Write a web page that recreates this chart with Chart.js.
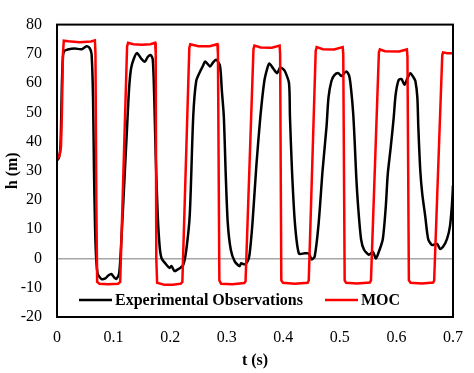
<!DOCTYPE html>
<html lang="en">
<head>
  <meta charset="UTF-8" />
  <title>h vs t</title>
  <style>
    * { margin: 0; padding: 0; box-sizing: border-box; }
    body { background: #fff; width: 474px; height: 373px; overflow: hidden; }
    #hChart { display: block; }
  </style>
</head>
<body>
  <canvas id="hChart" width="474" height="373"></canvas>

  <script src="https://cdn.jsdelivr.net/npm/chart.js@4/dist/chart.umd.min.js"></script>
  <script>
    // experimental observations
    const expT = [0, 0.0035, 0.0061, 0.0087, 0.0105, 0.0131, 0.0192, 0.0314, 0.0436, 0.0524, 0.0576, 0.0611,
      0.0637, 0.0654, 0.0681, 0.0716, 0.0785, 0.0855, 0.0907, 0.096, 0.1012, 0.1047, 0.1099, 0.1134, 0.1187,
      0.1239, 0.1274, 0.1309, 0.1361, 0.1414, 0.1483, 0.1553, 0.1606, 0.1658, 0.1693, 0.1719, 0.1745, 0.178,
      0.1815, 0.185, 0.192, 0.1989, 0.2024, 0.2077, 0.2129, 0.2181, 0.2234, 0.2286, 0.2347, 0.2408, 0.2461,
      0.253, 0.2583, 0.2618, 0.2705, 0.2757, 0.281, 0.288, 0.2914, 0.2949, 0.2984, 0.3019, 0.3072, 0.3141,
      0.3229, 0.3255, 0.3316, 0.3368, 0.3403, 0.3455, 0.3525, 0.3595, 0.3665, 0.3717, 0.3752, 0.3822, 0.3892,
      0.3944, 0.3996, 0.4031, 0.4101, 0.4118, 0.4154, 0.4206, 0.4276, 0.438, 0.445, 0.4502, 0.4555, 0.4625,
      0.4694, 0.4764, 0.4799, 0.4851, 0.4904, 0.4974, 0.5026, 0.5113, 0.5166, 0.5201, 0.5236, 0.5262, 0.5288,
      0.5323, 0.5375, 0.5428, 0.5515, 0.5585, 0.5637, 0.5689, 0.5759, 0.5812, 0.5846, 0.5899, 0.5951, 0.5986,
      0.6038, 0.609, 0.6143, 0.6195, 0.6248, 0.63, 0.6335, 0.637, 0.6387, 0.6422, 0.6457, 0.6509, 0.6562,
      0.6632, 0.6719, 0.6771, 0.6824, 0.6893, 0.6946, 0.698, 0.7];
    const expH = [33.5, 34.5, 38, 60, 69, 71, 71.5, 71.8, 71.6, 72.6, 72, 70,
      55, 30, 5, -5, -7, -6.8, -5.8, -5.3, -6.5, -7, -5, 5, 25,
      45, 58, 65, 68.5, 70.3, 68.5, 67.3, 69, 69.6, 68, 55, 35, 15,
      4, 0, -1.8, -3.2, -2.6, -4.3, -3.8, -3.2, -2.1, 3, 15, 48.5, 60.7,
      64, 66, 67.4, 65.7, 67, 68, 66, 57.4, 48.5, 28, 12, 3, -1,
      -2.6, -1.6, -2, -1, 1.3, 12, 32, 48.5, 60.7, 65, 66.7, 65, 63.4,
      65.3, 64.8, 64, 60, 48.5, 30, 12, 1.7, 1.8, 1.7, -0.3, 0.7, 12,
      30, 45, 55, 60.7, 62.7, 63.4, 62.4, 64, 62.4, 57.4, 49.5, 40, 28.7,
      17.8, 6.6, 3, 1.3, 2.3, 0, 2.3, 6.6, 17.8, 28.7, 38, 48, 56,
      61, 61.4, 59.4, 61.7, 63.4, 62, 60.7, 55, 45, 30, 22, 14.5, 6.6,
      4.6, 5, 3.3, 4, 6.6, 11, 18, 25];

    // method of characteristics
    const mocT = [0, 0.004, 0.007, 0.0087, 0.0105, 0.012, 0.02, 0.04, 0.06, 0.067, 0.068, 0.0695, 0.071,
      0.075, 0.09, 0.108, 0.1117, 0.1239, 0.1257, 0.135, 0.15, 0.165, 0.1735, 0.1745, 0.1755, 0.177,
      0.19, 0.205, 0.219, 0.2216, 0.2339, 0.2356, 0.25, 0.27, 0.2835, 0.2845, 0.287, 0.29,
      0.31, 0.331, 0.3333, 0.3473, 0.349, 0.36, 0.38, 0.3935, 0.3944, 0.3965, 0.3995,
      0.42, 0.443, 0.445, 0.4573, 0.459, 0.47, 0.49, 0.505, 0.506, 0.5085, 0.511,
      0.53, 0.553, 0.555, 0.569, 0.5707, 0.58, 0.605, 0.6185, 0.6195, 0.622, 0.625,
      0.645, 0.665, 0.6667, 0.681, 0.6824, 0.69, 0.7];
    const mocH = [34, 35, 38, 50, 70, 74.5, 74.3, 74, 74.2, 74.6, 70, 20, -8,
      -8.6, -8.8, -8.6, -8, 72.5, 73.8, 73.3, 73.1, 73.3, 73.8, 70, 0, -8.3,
      -9, -9, -8.6, -8, 72, 73.3, 72.6, 72.6, 73.3, 70, -7.5, -8.6,
      -8.8, -8.4, -7.8, 71.6, 72.8, 72.2, 72.1, 72.8, 70, -7.5, -8.3,
      -8.6, -8.3, -7.5, 71, 72.3, 71.6, 71.5, 72.3, 70, -7.5, -8.3,
      -8.5, -8.2, -7.5, 70.5, 71.5, 70.9, 70.8, 71.5, 69, -7.5, -8.3,
      -8.5, -8.2, -7.5, 69.5, 70.5, 70.2, 70.2];

    const seriesNames = ['Experimental Observations', 'MOC'];
    const xTicks = [0, 0.1, 0.2, 0.3, 0.4, 0.5, 0.6, 0.7];
    const yTicks = [-20, -10, 0, 10, 20, 30, 40, 50, 60, 70, 80];

    const serif = "'Liberation Serif', 'Times New Roman', serif";

    function toPoints(xs, ys) {
      return xs.map((x, i) => ({ x: x, y: ys[i] }));
    }

    // box round the plot area + legend drawn inside it
    const frameAndLegend = {
      id: 'frameAndLegend',
      afterDatasetsDraw(chart) {
        const { ctx, chartArea } = chart;
        ctx.save();
        ctx.lineWidth = 2;
        ctx.strokeStyle = '#000';
        ctx.strokeRect(chartArea.left, chartArea.top, chartArea.right - chartArea.left, chartArea.bottom - chartArea.top);

        const y = chartArea.bottom - 17;
        let x = chartArea.left + 22;
        ctx.font = "bold 16px " + serif;
        ctx.textBaseline = 'middle';
        ctx.textAlign = 'left';
        [0, 1].forEach(i => {
          const ds = chart.data.datasets[i];
          ctx.beginPath();
          ctx.strokeStyle = ds.borderColor;
          ctx.lineWidth = 2.5;
          ctx.moveTo(x, y);
          ctx.lineTo(x + 33, y);
          ctx.stroke();
          ctx.fillStyle = '#000';
          ctx.fillText(ds.label, x + 36, y + 1);
          x += 36 + ctx.measureText(ds.label).width + 22;
        });
        ctx.restore();
      }
    };

    new Chart(document.getElementById('hChart'), {
      type: 'scatter',
      data: {
        datasets: [
          {
            label: seriesNames[0],
            data: toPoints(expT, expH),
            showLine: true,
            borderColor: '#000000',
            borderWidth: 2.5,
            pointRadius: 0,
            tension: 0.25,
            order: 1
          },
          {
            label: seriesNames[1],
            data: toPoints(mocT, mocH),
            showLine: true,
            borderColor: '#ff0000',
            borderWidth: 2.5,
            pointRadius: 0,
            tension: 0,
            order: 0
          }
        ]
      },
      options: {
        responsive: false,
        animation: false,
        layout: { padding: { top: 14, right: 16, left: 0, bottom: 0 } },
        plugins: {
          legend: { display: false },
          tooltip: { enabled: false }
        },
        scales: {
          x: {
            type: 'linear',
            min: 0,
            max: 0.7,
            afterBuildTicks: s => { s.ticks = xTicks.map(v => ({ value: v })); },
            afterFit: s => { s.height = 56; },
            grid: { display: false, drawTicks: false },
            border: { display: false },
            ticks: {
              color: '#000',
              padding: 11,
              maxRotation: 0,
              font: { family: serif, size: 16 },
              callback: v => String(+v.toFixed(1))
            },
            title: {
              display: true,
              text: 't (s)',
              color: '#000',
              padding: { top: 0, bottom: 3 },
              font: { family: serif, size: 16, weight: 'bold' }
            }
          },
          y: {
            min: -20,
            max: 80,
            afterBuildTicks: s => { s.ticks = yTicks.map(v => ({ value: v })); },
            afterFit: s => { s.width = 57; },
            grid: {
              drawTicks: false,
              lineWidth: 1.5,
              color: c => (c.tick && c.tick.value === 0 ? '#a6a6a6' : 'rgba(0,0,0,0)')
            },
            border: { display: false },
            ticks: {
              color: '#000',
              padding: 15,
              font: { family: serif, size: 16 }
            },
            title: {
              display: true,
              text: 'h (m)',
              color: '#000',
              padding: { top: 3, bottom: 0 },
              font: { family: serif, size: 16, weight: 'bold' }
            }
          }
        }
      },
      plugins: [frameAndLegend]
    });
  </script>
</body>
</html>
